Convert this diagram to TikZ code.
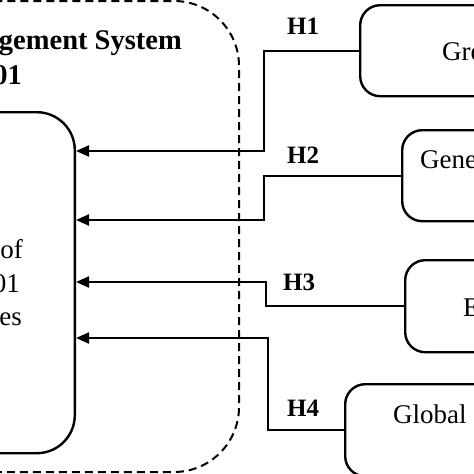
\documentclass[tikz,border=0pt]{standalone}
\usepackage{fontspec}
\setmainfont{Liberation Serif}
\usetikzlibrary{arrows.meta}
\tikzset{
  box/.style={draw, line width=2.4pt, rounded corners=20pt, inner sep=0pt},
  innerbox/.style={draw, line width=2.4pt, rounded corners=38pt, inner sep=0pt},
  dashbox/.style={draw, line width=2pt, dash pattern=on 8pt off 5pt, rounded corners=65pt},
  arr/.style={line width=2.2pt, -{Triangle[length=13pt,width=11pt]}},
  txt/.style={inner sep=0pt, font=\fontsize{27}{32}\selectfont},
  btxt/.style={inner sep=0pt, font=\fontsize{28.5}{32}\selectfont\bfseries},
  hlab/.style={inner sep=0pt, font=\fontsize{25}{28}\selectfont\bfseries},
}
\begin{document}
\begin{tikzpicture}[x=1pt,y=-1pt]
\useasboundingbox (0,0) rectangle (474,474);
% outer dashed system
\draw[dashbox] (-200,1) rectangle (239,472);
\node[btxt, anchor=base east] (t1) at (182,49) {gement System};
\node[btxt, anchor=base east] (t2) at (22,84) {01};
% inner box
\node[innerbox, minimum width=276pt, minimum height=341pt, anchor=north east] (inner) at (76,111) {};
\node[txt, anchor=base east] (i1) at (23,258) {of};
\node[txt, anchor=base east] (i2) at (20,292) {01};
\node[txt, anchor=base east] (i3) at (22,325) {es};
% right boxes
\node[box, minimum width=200pt, minimum height=91pt, anchor=north west] (b1) at (359,4) {};
\node[box, minimum width=200pt, minimum height=91pt, anchor=north west] (b2) at (401,129) {};
\node[box, minimum width=200pt, minimum height=92pt, anchor=north west] (b3) at (404,259) {};
\node[box, minimum width=200pt, minimum height=92pt, anchor=north west] (b4) at (344,383) {};
\node[txt, anchor=base west] (l1) at (442,60) {Gre};
\node[txt, anchor=base west] (l2) at (420,168) {Gene};
\node[txt, anchor=base west] (l3) at (463,316) {E};
\node[txt, anchor=base west] (l4) at (393,423) {Global};
% arrow ends on inner box
\coordinate (e1) at (76,151);
\coordinate (e2) at (76,220);
\coordinate (e3) at (76,282);
\coordinate (e4) at (76,338);
\coordinate (k1) at (264,151);
\coordinate (k2) at (264,220);
\coordinate (k3) at (266,282);
\coordinate (k4) at (268,338);
\draw[arr] (b1.west) -| (k1) -- (e1);
\draw[arr] (b2.west) -| (k2) -- (e2);
\draw[arr] (b3.west) -| (k3) -- (e3);
\draw[arr] (b4.west) -| (k4) -- (e4);
% labels
\node[hlab, anchor=base west] (h1) at (287,34) {H1};
\node[hlab, anchor=base west] (h2) at (287,163) {H2};
\node[hlab, anchor=base west] (h3) at (283,290) {H3};
\node[hlab, anchor=base west] (h4) at (287,416) {H4};
\end{tikzpicture}
\end{document}
